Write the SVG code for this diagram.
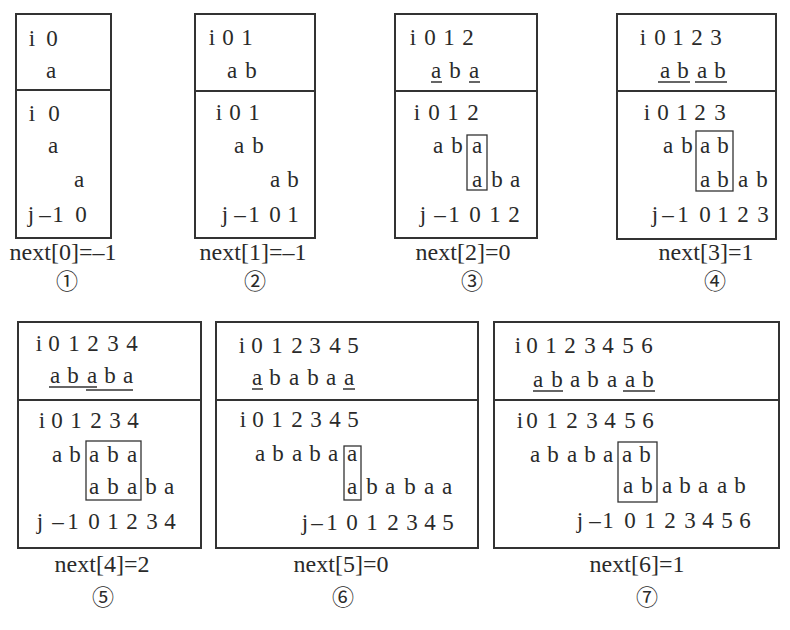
<svg xmlns="http://www.w3.org/2000/svg" width="790" height="630" viewBox="0 0 790 630">
<style>
text{font-family:"Liberation Serif","Times New Roman",serif;font-size:23px;fill:#2a2a2a;text-anchor:middle}
.lbl{font-size:24px}
.cir{font-family:"Noto Sans CJK SC","DejaVu Sans",sans-serif;font-size:22px}
.frame{fill:none;stroke:#333;stroke-width:2}
.div{stroke:#333;stroke-width:2}
.col{fill:none;stroke:#333;stroke-width:1.3}
.ul{stroke:#333;stroke-width:1.5}
</style>
<rect width="790" height="630" fill="#fff"/>

<g id="panel1">
<rect class="frame" x="16" y="14" width="95" height="224"/>
<line class="div" x1="16" y1="90" x2="111" y2="90"/>
<text x="32 42 52" y="46">i 0</text>
<text x="51" y="78">a</text>
<text x="32 43 54" y="121">i 0</text>
<text x="53" y="153">a</text>
<text x="79" y="187">a</text>
<text x="31 38 45 58 70 81" y="222">j –1 0</text>
<text class="lbl" x="63" y="260">next[0]=–1</text>
<text class="cir" x="67" y="289">①</text>
</g>

<g id="panel2">
<rect class="frame" x="195" y="14" width="120" height="224"/>
<line class="div" x1="195" y1="91" x2="315" y2="91"/>
<text x="212 220 228 238 247" y="45">i 0 1</text>
<text x="232 242 251" y="78">a b</text>
<text x="219 227 235 245 254" y="120">i 0 1</text>
<text x="239 249 258" y="153">a b</text>
<text x="275 284 293" y="187">a b</text>
<text x="225 232 240 254 265 275 284 293" y="222">j –1 0 1</text>
<text class="lbl" x="253" y="260">next[1]=–1</text>
<text class="cir" x="255" y="289">②</text>
</g>

<g id="panel3">
<rect class="frame" x="395" y="14" width="142" height="224"/>
<line class="div" x1="395" y1="91" x2="537" y2="91"/>
<text x="413 421 430 440 449 458 468" y="45">i 0 1 2</text>
<text x="436 446 455 465 474" y="78">a b a</text>
<line class="ul" x1="431" y1="82" x2="442" y2="82"/>
<line class="ul" x1="469" y1="82" x2="480" y2="82"/>
<text x="417 425 434 443 453 463 473" y="120">i 0 1 2</text>
<text x="438 448 457 467 477" y="153">a b a</text>
<text x="477 487 497 506 515" y="187">a b a</text>
<rect class="col" x="467" y="135" width="20" height="55"/>
<text x="423 431 440 454 465 475 485 495 505 514" y="222">j –1 0 1 2</text>
<text class="lbl" x="463" y="260">next[2]=0</text>
<text class="cir" x="472" y="289">③</text>
</g>

<g id="panel4">
<rect class="frame" x="617" y="14" width="159" height="225"/>
<line class="div" x1="617" y1="91" x2="776" y2="91"/>
<text x="643 651 660 669 678 687 697 706 716" y="45">i 0 1 2 3</text>
<text x="665 674 683 692 702 711 720" y="78">a b a b</text>
<line class="ul" x1="658" y1="82" x2="690" y2="82"/>
<line class="ul" x1="695" y1="82" x2="727" y2="82"/>
<text x="647 655 663 672 682 691 700 710 720" y="120">i 0 1 2 3</text>
<text x="668 677 687 696 705 714 723" y="153">a b a b</text>
<text x="705 714 723 733 743 752 762" y="187">a b a b</text>
<rect class="col" x="696" y="131" width="37" height="60"/>
<text x="655 661 668 683 694 705 714 723 733 743 753 763" y="222">j –1 0 1 2 3</text>
<text class="lbl" x="706" y="260">next[3]=1</text>
<text class="cir" x="715" y="289">④</text>
</g>

<g id="panel5">
<rect class="frame" x="18" y="322" width="183" height="226"/>
<line class="div" x1="18" y1="400" x2="201" y2="400"/>
<text x="39 46 54 64 74 83 93 103 113 122 132" y="351">i 0 1 2 3 4</text>
<text x="55 64 73 82 92 101 110 119 128" y="383">a b a b a</text>
<line class="ul" x1="49" y1="387" x2="97" y2="387"/>
<line class="ul" x1="86" y1="390" x2="133" y2="390"/>
<text x="42 49 57 66 76 86 96 105 115 124 133" y="428">i 0 1 2 3 4</text>
<text x="57 66 75 84 94 103 113 122 132" y="462">a b a b a</text>
<text x="94 103 113 122 132 141 151 160 169" y="494">a b a b a</text>
<rect class="col" x="86" y="441" width="55" height="59"/>
<text x="40 49 58 73 83 94 103 113 122 132 142 152 161 170" y="529">j –1 0 1 2 3 4</text>
<text class="lbl" x="102" y="572">next[4]=2</text>
<text class="cir" x="103" y="605">⑤</text>
</g>

<g id="panel6">
<rect class="frame" x="216" y="322" width="262" height="226"/>
<line class="div" x1="216" y1="400" x2="478" y2="400"/>
<text x="242 249 257 267 277 287 297 306 315 325 335 344 353" y="353">i 0 1 2 3 4 5</text>
<text x="257 266 275 284 294 303 313 322 331 340 349" y="385">a b a b a a</text>
<line class="ul" x1="252" y1="389" x2="263" y2="389"/>
<line class="ul" x1="343" y1="389" x2="355" y2="389"/>
<text x="243 250 258 267 277 287 297 306 316 325 335 344 353" y="427">i 0 1 2 3 4 5</text>
<text x="260 269 278 287 297 306 315 324 333 342 352" y="461">a b a b a a</text>
<text x="352 362 372 381 390 400 410 419 429 438 447" y="494">a b a b a a</text>
<rect class="col" x="344" y="446" width="17" height="54"/>
<text x="305 311 317 332 342 352 362 372 382 393 402 412 421 430 439 448" y="530">j –1 0 1 2 3 4 5</text>
<text class="lbl" x="341" y="572">next[5]=0</text>
<text class="cir" x="343" y="605">⑥</text>
</g>

<g id="panel7">
<rect class="frame" x="494" y="322" width="285" height="226"/>
<line class="div" x1="494" y1="400" x2="779" y2="400"/>
<text x="518 525 532 541 551 560 570 580 590 599 608 618 628 637 647" y="353">i 0 1 2 3 4 5 6</text>
<text x="538 547 557 566 575 584 593 602 612 621 630 639 648" y="387">a b a b a a b</text>
<line class="ul" x1="533" y1="391" x2="563" y2="391"/>
<line class="ul" x1="623" y1="391" x2="655" y2="391"/>
<text x="520 526 532 542 552 562 572 582 592 601 610 620 630 639 648" y="428">i 0 1 2 3 4 5 6</text>
<text x="535 544 553 562 572 581 590 599 608 617 627 636 645" y="462">a b a b a a b</text>
<text x="628 637 647 657 667 676 685 694 703 712 722 731 740" y="493">a b a b a a b</text>
<rect class="col" x="618" y="442" width="39" height="60"/>
<text x="580 587 595 608 619 630 640 650 660 670 680 690 699 708 717 727 736 745" y="528">j –1 0 1 2 3 4 5 6</text>
<text class="lbl" x="637" y="572">next[6]=1</text>
<text class="cir" x="647" y="605">⑦</text>
</g>

<g id="connectors"/>
</svg>
